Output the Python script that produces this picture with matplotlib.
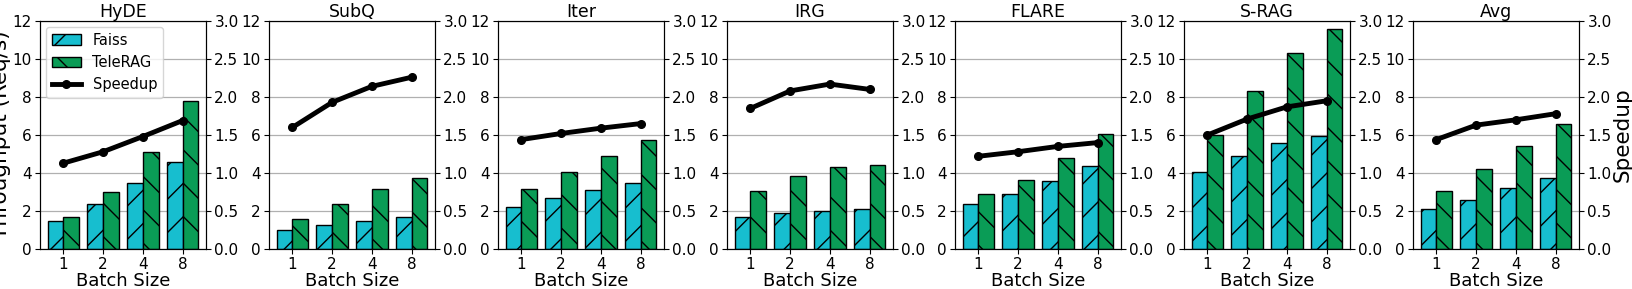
import matplotlib
matplotlib.use("Agg")
import matplotlib.pyplot as plt
import numpy as np

titles = ["HyDE", "SubQ", "Iter", "IRG", "FLARE", "S-RAG", "Avg"]
batch_sizes = ["1", "2", "4", "8"]

faiss_hyde = [1.45, 2.35, 3.45, 4.6]
faiss_subq = [1.0, 1.25, 1.47, 1.68]
faiss_iter = [2.2, 2.67, 3.1, 3.47]
faiss_irg = [1.68, 1.87, 1.98, 2.1]
faiss_flare = [2.36, 2.88, 3.57, 4.36]
faiss_srag = [4.05, 4.87, 5.57, 5.94]
faiss_avg = [2.1, 2.58, 3.2, 3.73]

tele_hyde = [1.68, 2.98, 5.13, 7.77]
tele_subq = [1.58, 2.37, 3.15, 3.73]
tele_iter = [3.15, 4.05, 4.88, 5.73]
tele_irg = [3.04, 3.84, 4.31, 4.41]
tele_flare = [2.88, 3.63, 4.78, 6.04]
tele_srag = [5.99, 8.3, 10.3, 11.56]
tele_avg = [3.04, 4.19, 5.41, 6.57]

speed_hyde = [1.13, 1.28, 1.48, 1.69]
speed_subq = [1.6, 1.93, 2.14, 2.26]
speed_iter = [1.44, 1.52, 1.59, 1.65]
speed_irg = [1.85, 2.08, 2.17, 2.1]
speed_flare = [1.22, 1.28, 1.35, 1.4]
speed_srag = [1.5, 1.71, 1.87, 1.95]
speed_avg = [1.44, 1.63, 1.7, 1.78]

faiss_all = [faiss_hyde, faiss_subq, faiss_iter, faiss_irg, faiss_flare, faiss_srag, faiss_avg]
tele_all = [tele_hyde, tele_subq, tele_iter, tele_irg, tele_flare, tele_srag, tele_avg]
speed_all = [speed_hyde, speed_subq, speed_iter, speed_irg, speed_flare, speed_srag, speed_avg]

c_faiss = "#17becf"
c_tele = "#0a9c56"

plt.rcParams["font.family"] = ["DejaVu Sans"]
plt.rcParams["hatch.linewidth"] = 1.0

fig = plt.figure(figsize=(16.32, 2.89), dpi=100)
W, H = 1632.0, 289.0
lefts = [40, 269, 498, 727, 955, 1184, 1413]
aw = 166
ab = 40
ah = 228

x = np.arange(len(batch_sizes))
bw = 0.4
for i, t in enumerate(titles):
    ax = fig.add_axes([lefts[i] / W, ab / H, aw / W, ah / H])
    ax.set_axisbelow(True)
    ax.yaxis.grid(True, color="#b0b0b0", linewidth=0.9)
    b1 = ax.bar(x - bw / 2, faiss_all[i], bw, color=c_faiss, edgecolor="black",
                hatch="/", linewidth=1.0, label="Faiss")
    b2 = ax.bar(x + bw / 2, tele_all[i], bw, color=c_tele, edgecolor="black",
                hatch="\\", linewidth=1.0, label="TeleRAG")
    ax.set_ylim(0, 12)
    ax.set_yticks([0, 2, 4, 6, 8, 10, 12])
    ax.set_xticks(x)
    ax.set_xticklabels(batch_sizes)
    ax.tick_params(labelsize=11, pad=2.5)
    ax.set_xlabel("Batch Size", fontsize=13, labelpad=0)
    ax.set_title(t, fontsize=12.5, pad=2)
    ax2 = ax.twinx()
    ln, = ax2.plot(x, speed_all[i], color="black", linewidth=3.5, marker="o",
                   markersize=5.5, label="Speedup")
    ax2.set_ylim(0, 3.0)
    ax2.set_yticks([0, 0.5, 1.0, 1.5, 2.0, 2.5, 3.0])
    ax2.set_yticklabels(["0.0", "0.5", "1.0", "1.5", "2.0", "2.5", "3.0"])
    ax2.tick_params(labelsize=11, pad=2.5)
    if i == 0:
        ax.set_ylabel("Throughput (Req/s)", fontsize=15.5, labelpad=1)
        ax2.legend([b1, b2, ln], ["Faiss", "TeleRAG", "Speedup"], loc="upper left",
                   fontsize=10.5, handlelength=2.0, borderaxespad=0.4)
    if i == len(titles) - 1:
        ax2.set_ylabel("Speedup", fontsize=15.5, labelpad=1)

fig.savefig("out.png", dpi=100)
